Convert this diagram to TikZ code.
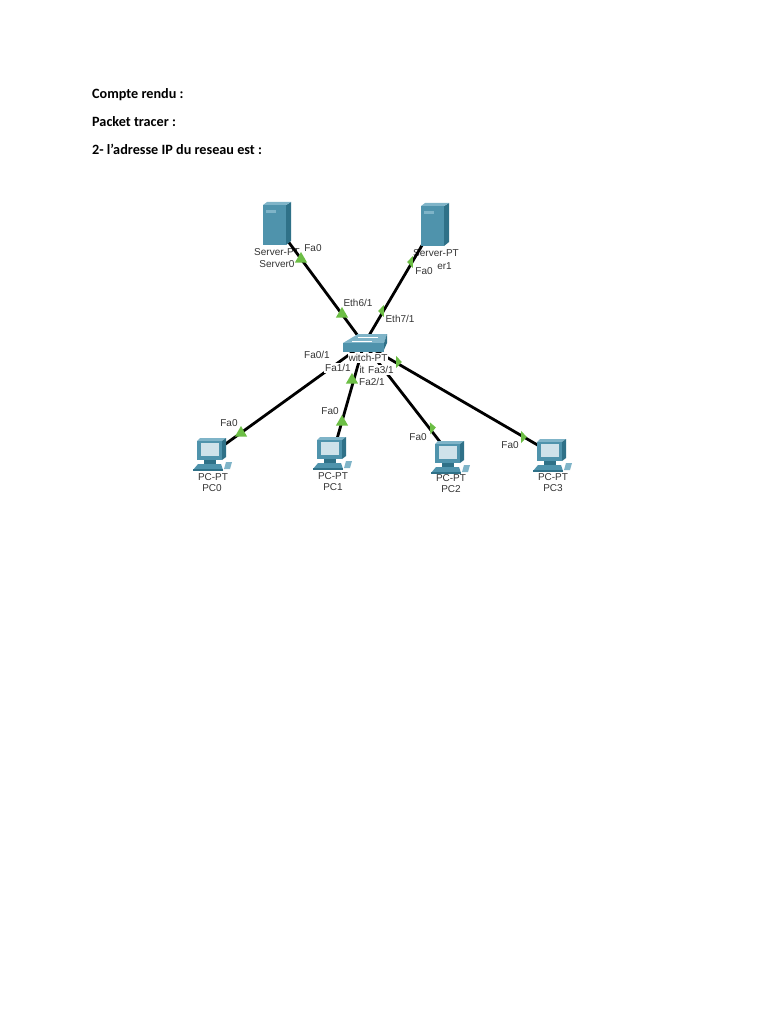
\documentclass[tikz,border=0pt]{standalone}
\usepackage{fontspec}
\usepackage{xcolor}
\usepackage{tikz}
\usetikzlibrary{shapes.geometric}
\setmainfont{Carlito}
\newfontfamily\labelfont{Liberation Sans}
\definecolor{netblue}{HTML}{4F93AC}
\definecolor{netdark}{HTML}{2F7188}
\definecolor{netlight}{HTML}{7FB4C8}
\definecolor{netscreen}{HTML}{CFE2EA}
\definecolor{linkgreen}{HTML}{6CBE45}
\newcommand{\servericon}[2]{
	\begin{scope}[shift={(#1,#2)}]
		\fill[netdark] (10,-20) -- (15,-23) -- (15,16) -- (10,20) -- cycle;
		\fill[netlight] (-13,-20) -- (-9,-23) -- (15,-23) -- (10,-20) -- cycle;
		\fill[netblue] (-13,-20) rectangle (10,20);
		\fill[netlight] (-10,-15) rectangle (0,-12);
	\end{scope}
}
\newcommand{\pcicon}[2]{
	\begin{scope}[shift={(#1,#2)}]
		\fill[netlight] (-16,-12) -- (-13,-15) -- (13,-15) -- (9,-12) -- cycle;
		\fill[netdark] (9,-12) -- (13,-15) -- (13,4) -- (9,7) -- cycle;
		\fill[netblue] (-16,-12) rectangle (9,7);
		\fill[netscreen] (-12,-10) rectangle (6,3);
		\fill[netdark] (-9,7) rectangle (3,11);
		\fill[netblue] (-15,11) -- (8,11) -- (10,17) -- (-20,17) -- cycle;
		\fill[netdark] (-20,16) rectangle (10,18);
		\fill[netlight] (13,9) -- (19,9) -- (17,16) -- (11,16) -- cycle;
	\end{scope}
}
\tikzset{
	heading/.style={anchor=west,inner sep=0pt,font=\fontsize{14.2}{16}\selectfont\bfseries},
	devlabel/.style={inner sep=0pt,text=black!80,font=\labelfont\fontsize{10}{12}\selectfont},
	portlabel/.style={devlabel,fill=white,inner sep=1pt},
	link/.style={line width=2.8pt,black},
	linkup/.style={regular polygon,regular polygon sides=3,fill=linkgreen,inner sep=0pt,minimum size=14pt},
	linkside/.style={linkup,xscale=0.55},
	device/.style={inner sep=0pt,minimum size=1pt}
}
\begin{document}
\begin{tikzpicture}[x=1pt,y=-1pt]
	\useasboundingbox (0,0) rectangle (768,1024);
	\node (title) [heading] at (92,95) {Compte rendu :};
	\node (tool) [heading] at (92,122) {Packet tracer :};
	\node (question) [heading] at (92,149) {2- l’adresse IP du reseau est :};

	\node (server0) [device] at (276,225) {};
	\node (server1) [device] at (434,225) {};
	\node (switch0) [device] at (364,344) {};
	\node (pc0) [device] at (213,453) {};
	\node (pc1) [device] at (333,453) {};
	\node (pc2) [device] at (451,456) {};
	\node (pc3) [device] at (553,454) {};

	\node (server0type) [devlabel] at (277,252) {Server-PT};
	\node (server0name) [devlabel] at (277,264) {Server0};
	\node (server1type) [devlabel] at (436,253) {Server-PT};
	\node (server1name) [devlabel,anchor=east] at (452,266) {er1};
	\node (pc0type) [devlabel] at (213,477) {PC-PT};
	\node (pc0name) [devlabel] at (212,488) {PC0};
	\node (pc1type) [devlabel] at (333,476) {PC-PT};
	\node (pc1name) [devlabel] at (333,487) {PC1};
	\node (pc2type) [devlabel] at (451,478) {PC-PT};
	\node (pc2name) [devlabel] at (451,489) {PC2};
	\node (pc3type) [devlabel] at (553,477) {PC-PT};
	\node (pc3name) [devlabel] at (553,488) {PC3};

	\draw[link] (server0) -- (switch0);
	\draw[link] (server1) -- (switch0);
	\draw[link] (pc0) -- (switch0);
	\draw[link] (pc1) -- (switch0);
	\draw[link] (pc2) -- (switch0);
	\draw[link] (pc3) -- (switch0);

	\servericon{276}{225}
	\servericon{434}{226}
	\pcicon{213}{453}
	\pcicon{333}{452}
	\pcicon{451}{456}
	\pcicon{553}{454}

	\fill[netlight] (343,343) -- (358,334) -- (387,334) -- (384,343) -- cycle;
	\fill[netdark] (384,343) -- (387,334) -- (387,343) -- (383,352) -- cycle;
	\fill[netblue] (343,343) rectangle (384,352);
	\draw[white,line width=0.6pt] (358,337) -- (378,337);
	\draw[white,line width=0.6pt] (352,341) -- (372,341);

	\node (switchtype) [portlabel,minimum height=10pt] at (368,358) {witch-PT};
	\node (switchname) [devlabel] at (362,370) {it};

	\node (mark0) [linkup] at (301,259) {};
	\node (mark1) [linkup] at (342,314) {};
	\node (mark2) [linkside,rotate=-30] at (411,262) {};
	\node (mark3) [linkside,rotate=-30] at (382,311) {};
	\node (mark4) [linkup] at (241,433) {};
	\node (mark5) [linkup] at (342,422) {};
	\node (mark6) [linkup] at (352,380) {};
	\node (mark7) [linkside,rotate=35] at (432,428) {};
	\node (mark8) [linkside,rotate=30] at (398,362) {};
	\node (mark9) [linkside,rotate=30] at (523,437) {};

	\node (port0) [devlabel] at (313,248) {Fa0};
	\node (port1) [portlabel] at (424,271) {Fa0};
	\node (port2) [devlabel] at (358,303) {Eth6/1};
	\node (port3) [devlabel] at (400,319) {Eth7/1};
	\node (port4) [portlabel] at (317,355) {Fa0/1};
	\node (port5) [portlabel] at (338,368) {Fa1/1};
	\node (port6) [portlabel] at (381,370) {Fa3/1};
	\node (port7) [portlabel] at (372,382) {Fa2/1};
	\node (port8) [portlabel] at (229,423) {Fa0};
	\node (port9) [portlabel] at (330,411) {Fa0};
	\node (port10) [portlabel] at (418,437) {Fa0};
	\node (port11) [portlabel] at (510,445) {Fa0};
\end{tikzpicture}
\end{document}
